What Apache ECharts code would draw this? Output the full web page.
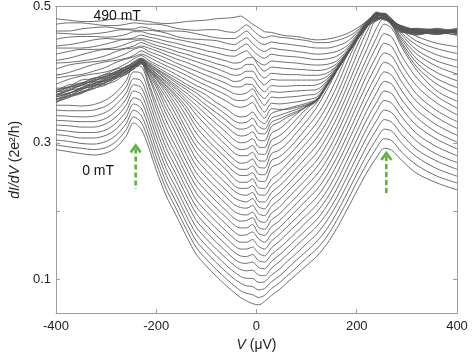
<!DOCTYPE html>
<html><head><meta charset="utf-8">
<script src="https://cdn.jsdelivr.net/npm/echarts@6/dist/echarts.min.js"></script>
<style>html,body{margin:0;padding:0;background:#fff;}#c{width:474px;height:357px;}</style>
</head><body><div id="c"></div>
<script>
// Bias voltage grid (µV)
const biasUV = [-400,-375,-350,-325,-300,-280,-260,-245,-230,-215,-200,-180,-160,-140,-120,-100,-80,-60,-44,-32,-20,-8,4,16,30,45,60,80,100,120,140,160,180,200,220,240,255,270,290,320,360,400];

// dI/dV traces (2e²/h), from 0 mT (tr00) up to 490 mT (tr41)
const tr00 = [0.290,0.287,0.284,0.282,0.285,0.293,0.310,0.329,0.320,0.293,0.260,0.222,0.193,0.163,0.136,0.119,0.104,0.090,0.080,0.073,0.068,0.064,0.062,0.067,0.076,0.084,0.094,0.107,0.120,0.133,0.151,0.174,0.201,0.229,0.256,0.279,0.292,0.289,0.274,0.255,0.241,0.231];
const tr01 = [0.297,0.294,0.292,0.290,0.293,0.302,0.319,0.338,0.330,0.303,0.270,0.232,0.203,0.173,0.146,0.129,0.114,0.100,0.090,0.083,0.079,0.077,0.073,0.076,0.086,0.094,0.104,0.117,0.131,0.144,0.162,0.186,0.213,0.242,0.269,0.293,0.306,0.303,0.286,0.267,0.251,0.241];
const tr02 = [0.304,0.302,0.299,0.298,0.302,0.311,0.328,0.348,0.340,0.313,0.280,0.242,0.213,0.183,0.156,0.139,0.124,0.110,0.100,0.094,0.090,0.089,0.084,0.086,0.096,0.104,0.114,0.128,0.141,0.155,0.173,0.197,0.225,0.254,0.282,0.306,0.320,0.317,0.299,0.279,0.262,0.251];
const tr03 = [0.312,0.310,0.307,0.307,0.311,0.320,0.337,0.357,0.351,0.323,0.290,0.252,0.223,0.193,0.166,0.149,0.134,0.120,0.110,0.104,0.101,0.101,0.095,0.096,0.106,0.114,0.125,0.138,0.152,0.166,0.185,0.209,0.237,0.266,0.295,0.320,0.334,0.330,0.312,0.290,0.273,0.261];
const tr04 = [0.319,0.317,0.315,0.315,0.319,0.329,0.346,0.366,0.361,0.333,0.300,0.262,0.233,0.203,0.176,0.159,0.144,0.130,0.120,0.114,0.112,0.113,0.106,0.105,0.116,0.125,0.135,0.149,0.163,0.177,0.196,0.220,0.249,0.279,0.308,0.333,0.348,0.344,0.325,0.302,0.283,0.271];
const tr05 = [0.326,0.325,0.323,0.323,0.328,0.338,0.355,0.376,0.371,0.343,0.310,0.272,0.243,0.213,0.186,0.169,0.154,0.140,0.129,0.124,0.123,0.125,0.117,0.115,0.126,0.135,0.145,0.159,0.173,0.187,0.207,0.232,0.261,0.291,0.321,0.347,0.362,0.358,0.338,0.313,0.294,0.281];
const tr06 = [0.333,0.332,0.331,0.331,0.336,0.347,0.364,0.385,0.381,0.353,0.320,0.282,0.253,0.223,0.196,0.179,0.164,0.150,0.139,0.134,0.133,0.136,0.127,0.125,0.136,0.145,0.155,0.169,0.184,0.198,0.218,0.243,0.273,0.304,0.334,0.360,0.376,0.372,0.350,0.325,0.305,0.291];
const tr07 = [0.340,0.339,0.338,0.339,0.345,0.356,0.373,0.394,0.391,0.363,0.330,0.292,0.263,0.233,0.206,0.189,0.174,0.160,0.149,0.144,0.144,0.147,0.138,0.134,0.146,0.155,0.166,0.180,0.194,0.209,0.229,0.255,0.285,0.316,0.347,0.374,0.390,0.386,0.363,0.337,0.315,0.301];
const tr08 = [0.348,0.347,0.347,0.348,0.354,0.365,0.382,0.404,0.402,0.373,0.340,0.302,0.273,0.243,0.216,0.199,0.184,0.170,0.159,0.154,0.154,0.158,0.148,0.144,0.156,0.165,0.176,0.190,0.205,0.220,0.241,0.267,0.297,0.329,0.360,0.388,0.404,0.399,0.376,0.348,0.326,0.311];
const tr09 = [0.355,0.355,0.354,0.356,0.363,0.374,0.391,0.413,0.412,0.383,0.350,0.312,0.283,0.253,0.226,0.209,0.194,0.180,0.169,0.164,0.165,0.169,0.159,0.154,0.166,0.175,0.186,0.201,0.216,0.231,0.252,0.278,0.309,0.341,0.373,0.401,0.418,0.413,0.389,0.360,0.337,0.321];
const tr10 = [0.359,0.367,0.372,0.382,0.386,0.391,0.402,0.408,0.416,0.388,0.358,0.322,0.293,0.263,0.236,0.219,0.204,0.190,0.179,0.175,0.175,0.180,0.167,0.164,0.177,0.185,0.196,0.211,0.226,0.242,0.263,0.290,0.321,0.354,0.386,0.415,0.432,0.427,0.402,0.371,0.347,0.331];
const tr11 = [0.361,0.366,0.375,0.380,0.385,0.395,0.401,0.409,0.416,0.396,0.368,0.332,0.303,0.273,0.246,0.229,0.214,0.200,0.189,0.185,0.186,0.190,0.176,0.173,0.187,0.195,0.206,0.221,0.237,0.253,0.274,0.301,0.333,0.366,0.399,0.428,0.446,0.441,0.414,0.383,0.358,0.341];
const tr12 = [0.360,0.370,0.374,0.379,0.389,0.396,0.400,0.410,0.417,0.398,0.375,0.342,0.313,0.283,0.256,0.239,0.224,0.210,0.199,0.195,0.194,0.198,0.186,0.183,0.197,0.205,0.217,0.232,0.247,0.264,0.285,0.313,0.345,0.379,0.412,0.442,0.460,0.455,0.427,0.395,0.368,0.351];
const tr13 = [0.364,0.369,0.373,0.383,0.389,0.394,0.405,0.408,0.417,0.400,0.382,0.350,0.323,0.293,0.266,0.249,0.234,0.220,0.209,0.205,0.204,0.208,0.196,0.193,0.207,0.216,0.227,0.242,0.258,0.274,0.297,0.324,0.357,0.391,0.424,0.455,0.474,0.468,0.440,0.406,0.376,0.361];
const tr14 = [0.364,0.368,0.378,0.384,0.388,0.398,0.404,0.411,0.418,0.403,0.386,0.358,0.331,0.303,0.276,0.259,0.244,0.230,0.219,0.215,0.213,0.218,0.206,0.203,0.217,0.226,0.237,0.253,0.269,0.285,0.308,0.336,0.369,0.404,0.437,0.469,0.484,0.473,0.444,0.411,0.386,0.371];
const tr15 = [0.363,0.372,0.379,0.383,0.392,0.397,0.403,0.413,0.418,0.404,0.389,0.366,0.340,0.312,0.286,0.269,0.254,0.240,0.229,0.224,0.223,0.227,0.214,0.213,0.227,0.236,0.247,0.263,0.279,0.296,0.319,0.347,0.381,0.416,0.450,0.482,0.483,0.473,0.447,0.417,0.394,0.381];
const tr16 = [0.367,0.373,0.377,0.387,0.391,0.397,0.407,0.411,0.419,0.406,0.393,0.372,0.348,0.320,0.295,0.279,0.264,0.250,0.237,0.233,0.233,0.237,0.224,0.223,0.237,0.246,0.258,0.273,0.290,0.307,0.330,0.359,0.393,0.429,0.463,0.483,0.481,0.474,0.451,0.423,0.403,0.391];
const tr17 = [0.367,0.372,0.381,0.385,0.393,0.400,0.404,0.412,0.419,0.407,0.394,0.377,0.355,0.330,0.304,0.288,0.274,0.260,0.247,0.242,0.242,0.247,0.234,0.233,0.247,0.256,0.268,0.284,0.300,0.318,0.341,0.370,0.405,0.441,0.470,0.488,0.486,0.475,0.454,0.430,0.412,0.401];
const tr18 = [0.370,0.373,0.380,0.389,0.391,0.399,0.408,0.412,0.421,0.408,0.396,0.380,0.362,0.339,0.314,0.297,0.283,0.268,0.257,0.252,0.252,0.256,0.244,0.243,0.264,0.269,0.278,0.294,0.311,0.329,0.353,0.382,0.417,0.449,0.474,0.481,0.484,0.476,0.458,0.436,0.420,0.411];
const tr19 = [0.368,0.377,0.380,0.387,0.395,0.398,0.408,0.414,0.419,0.409,0.398,0.383,0.367,0.347,0.323,0.306,0.291,0.277,0.266,0.261,0.261,0.266,0.254,0.253,0.274,0.279,0.288,0.304,0.322,0.340,0.364,0.394,0.427,0.450,0.469,0.490,0.488,0.477,0.461,0.443,0.429,0.421];
const tr20 = [0.371,0.376,0.384,0.386,0.394,0.402,0.406,0.414,0.421,0.409,0.399,0.385,0.370,0.353,0.331,0.315,0.300,0.286,0.275,0.270,0.271,0.276,0.264,0.263,0.284,0.289,0.298,0.315,0.332,0.352,0.377,0.405,0.428,0.450,0.475,0.484,0.480,0.478,0.465,0.449,0.438,0.431];
const tr21 = [0.370,0.379,0.384,0.392,0.395,0.402,0.409,0.412,0.421,0.411,0.401,0.388,0.374,0.359,0.341,0.325,0.310,0.296,0.285,0.281,0.281,0.286,0.274,0.273,0.294,0.300,0.309,0.325,0.343,0.359,0.382,0.405,0.428,0.450,0.471,0.479,0.485,0.479,0.468,0.456,0.446,0.441];
const tr22 = [0.375,0.377,0.386,0.390,0.398,0.401,0.409,0.416,0.420,0.412,0.402,0.390,0.378,0.363,0.348,0.333,0.319,0.305,0.294,0.290,0.291,0.296,0.284,0.283,0.304,0.310,0.319,0.335,0.350,0.362,0.383,0.405,0.429,0.451,0.474,0.489,0.487,0.478,0.463,0.459,0.462,0.458];
const tr23 = [0.374,0.382,0.384,0.392,0.397,0.405,0.408,0.415,0.423,0.413,0.405,0.393,0.381,0.368,0.355,0.341,0.328,0.315,0.304,0.300,0.301,0.306,0.294,0.293,0.314,0.320,0.329,0.342,0.354,0.363,0.384,0.406,0.429,0.451,0.470,0.483,0.482,0.474,0.468,0.465,0.461,0.463];
const tr24 = [0.374,0.381,0.388,0.390,0.399,0.403,0.412,0.414,0.422,0.414,0.406,0.395,0.384,0.373,0.361,0.349,0.336,0.324,0.314,0.310,0.311,0.316,0.304,0.303,0.324,0.330,0.337,0.344,0.353,0.361,0.383,0.406,0.429,0.451,0.476,0.491,0.489,0.480,0.466,0.460,0.464,0.460];
const tr25 = [0.378,0.381,0.387,0.395,0.397,0.405,0.411,0.418,0.422,0.416,0.408,0.398,0.388,0.378,0.367,0.355,0.344,0.333,0.323,0.320,0.321,0.326,0.314,0.313,0.330,0.335,0.340,0.346,0.353,0.362,0.384,0.407,0.430,0.452,0.471,0.480,0.483,0.476,0.470,0.463,0.459,0.465];
const tr26 = [0.376,0.385,0.387,0.394,0.401,0.403,0.412,0.417,0.424,0.416,0.409,0.400,0.391,0.382,0.373,0.362,0.352,0.341,0.332,0.329,0.330,0.336,0.324,0.320,0.336,0.340,0.344,0.349,0.355,0.363,0.385,0.407,0.430,0.452,0.475,0.486,0.488,0.473,0.462,0.466,0.463,0.458];
const tr27 = [0.380,0.382,0.392,0.394,0.401,0.408,0.411,0.419,0.424,0.418,0.412,0.403,0.395,0.386,0.378,0.370,0.359,0.350,0.341,0.338,0.339,0.345,0.334,0.328,0.343,0.347,0.350,0.354,0.358,0.364,0.385,0.408,0.430,0.452,0.472,0.490,0.485,0.481,0.469,0.461,0.466,0.462];
const tr28 = [0.386,0.393,0.398,0.401,0.404,0.409,0.416,0.423,0.428,0.421,0.415,0.408,0.400,0.392,0.384,0.377,0.369,0.361,0.354,0.352,0.354,0.359,0.346,0.336,0.350,0.349,0.349,0.352,0.356,0.363,0.384,0.406,0.429,0.451,0.476,0.482,0.487,0.475,0.465,0.467,0.460,0.464];
const tr29 = [0.395,0.398,0.400,0.405,0.411,0.418,0.423,0.426,0.430,0.426,0.420,0.413,0.406,0.399,0.391,0.384,0.377,0.370,0.363,0.362,0.363,0.369,0.356,0.345,0.358,0.357,0.358,0.360,0.363,0.367,0.386,0.407,0.429,0.451,0.470,0.488,0.482,0.479,0.471,0.462,0.463,0.467];
const tr30 = [0.399,0.403,0.409,0.415,0.419,0.421,0.424,0.428,0.435,0.430,0.425,0.418,0.412,0.405,0.398,0.391,0.385,0.378,0.372,0.371,0.373,0.379,0.366,0.355,0.367,0.366,0.367,0.368,0.370,0.372,0.388,0.408,0.430,0.452,0.475,0.485,0.489,0.472,0.464,0.458,0.465,0.461];
const tr31 = [0.408,0.414,0.417,0.419,0.421,0.425,0.431,0.437,0.440,0.434,0.430,0.424,0.417,0.411,0.405,0.399,0.393,0.387,0.382,0.382,0.386,0.385,0.373,0.365,0.375,0.374,0.375,0.376,0.377,0.378,0.390,0.409,0.430,0.452,0.472,0.491,0.484,0.478,0.467,0.464,0.461,0.466];
const tr32 = [0.417,0.418,0.420,0.423,0.428,0.434,0.438,0.439,0.442,0.439,0.435,0.429,0.423,0.418,0.412,0.406,0.401,0.395,0.390,0.391,0.396,0.395,0.383,0.375,0.384,0.383,0.383,0.384,0.384,0.385,0.393,0.410,0.431,0.452,0.477,0.484,0.487,0.476,0.472,0.466,0.467,0.460];
const tr33 = [0.421,0.424,0.429,0.434,0.437,0.437,0.439,0.442,0.447,0.443,0.439,0.434,0.429,0.424,0.419,0.414,0.409,0.403,0.399,0.400,0.405,0.405,0.393,0.385,0.393,0.392,0.392,0.392,0.392,0.392,0.397,0.412,0.431,0.453,0.471,0.487,0.490,0.482,0.465,0.461,0.462,0.464];
const tr34 = [0.430,0.434,0.437,0.437,0.438,0.440,0.445,0.449,0.451,0.447,0.443,0.439,0.434,0.430,0.425,0.421,0.416,0.412,0.408,0.409,0.415,0.415,0.403,0.395,0.402,0.401,0.400,0.400,0.399,0.399,0.402,0.413,0.432,0.453,0.475,0.481,0.483,0.474,0.469,0.467,0.464,0.468];
const tr35 = [0.439,0.439,0.439,0.441,0.445,0.449,0.452,0.452,0.453,0.451,0.448,0.444,0.440,0.436,0.432,0.428,0.424,0.420,0.417,0.418,0.424,0.425,0.413,0.405,0.411,0.410,0.409,0.408,0.407,0.406,0.408,0.416,0.433,0.454,0.473,0.489,0.486,0.477,0.463,0.462,0.468,0.462];
const tr36 = [0.442,0.444,0.447,0.451,0.453,0.452,0.452,0.454,0.458,0.455,0.453,0.449,0.446,0.442,0.439,0.435,0.432,0.428,0.427,0.431,0.435,0.426,0.418,0.414,0.420,0.419,0.418,0.417,0.415,0.414,0.415,0.420,0.435,0.455,0.477,0.485,0.489,0.480,0.470,0.465,0.459,0.465];
const tr37 = [0.452,0.455,0.456,0.456,0.455,0.456,0.459,0.463,0.463,0.460,0.458,0.455,0.452,0.449,0.446,0.443,0.440,0.437,0.435,0.440,0.445,0.436,0.428,0.424,0.430,0.428,0.427,0.426,0.424,0.422,0.423,0.427,0.438,0.456,0.474,0.492,0.484,0.473,0.466,0.468,0.465,0.461];
const tr38 = [0.461,0.460,0.459,0.460,0.462,0.465,0.466,0.465,0.465,0.465,0.464,0.461,0.456,0.453,0.452,0.451,0.450,0.446,0.444,0.449,0.454,0.446,0.438,0.434,0.439,0.437,0.436,0.434,0.432,0.430,0.431,0.434,0.442,0.458,0.478,0.486,0.488,0.479,0.468,0.460,0.463,0.466];
const tr39 = [0.464,0.464,0.467,0.469,0.470,0.468,0.467,0.467,0.470,0.468,0.465,0.464,0.464,0.463,0.460,0.457,0.454,0.453,0.453,0.458,0.464,0.456,0.448,0.444,0.448,0.446,0.445,0.443,0.441,0.439,0.439,0.442,0.448,0.461,0.476,0.483,0.485,0.475,0.471,0.464,0.466,0.463];
const tr40 = [0.474,0.476,0.476,0.474,0.472,0.472,0.474,0.476,0.475,0.474,0.474,0.472,0.468,0.466,0.465,0.466,0.466,0.463,0.462,0.467,0.473,0.466,0.458,0.454,0.457,0.455,0.454,0.452,0.450,0.447,0.447,0.450,0.455,0.464,0.479,0.489,0.490,0.481,0.464,0.463,0.461,0.467];
const tr41 = [0.482,0.480,0.478,0.478,0.480,0.482,0.482,0.480,0.479,0.478,0.476,0.475,0.476,0.478,0.479,0.480,0.482,0.483,0.484,0.486,0.481,0.474,0.469,0.463,0.462,0.459,0.457,0.456,0.453,0.451,0.452,0.455,0.460,0.468,0.478,0.487,0.487,0.477,0.468,0.464,0.465,0.463];

const traces = [tr00,tr01,tr02,tr03,tr04,tr05,tr06,tr07,tr08,tr09,tr10,tr11,tr12,tr13,tr14,tr15,tr16,tr17,tr18,tr19,tr20,tr21,tr22,tr23,tr24,tr25,tr26,tr27,tr28,tr29,tr30,tr31,tr32,tr33,tr34,tr35,tr36,tr37,tr38,tr39,tr40,tr41];

// axis ticks
const xTicks = [-400,-200,0,200,400];
const yTickValues = [0.1,0.2,0.3,0.4,0.5];
const yLabelValues = [0.1,0.3,0.5];

// annotations (data coordinates)
const fieldTagText = ['490 mT','0 mT'];
const fieldTagBias = [-278,-316];
const fieldTagG = [0.486,0.258];
const arrowBias = [-241,259];
const arrowTipG = [0.296,0.285];
const arrowTailG = [0.232,0.226];

const FONT = 'Liberation Sans, Arial, Helvetica, sans-serif';
const axisGray = '#9c9c9c';
const txt = '#222';

const chart = echarts.init(document.getElementById('c'), null, {renderer:'canvas'});

const baseX = {
  type:'value', min:xTicks[0], max:xTicks[xTicks.length-1], interval:200,
  axisLine:{show:true, onZero:false, lineStyle:{color:axisGray, width:1}},
  axisTick:{show:true, inside:true, length:4, lineStyle:{color:axisGray}},
  splitLine:{show:false}
};
const baseY = {
  type:'value', min:0.05, max:0.5,
  axisLine:{show:true, onZero:false, lineStyle:{color:axisGray, width:1}},
  axisTick:{show:true, inside:true, length:4, customValues:yTickValues, lineStyle:{color:axisGray}},
  splitLine:{show:false}
};

const option = {
  animation:false,
  backgroundColor:'#fff',
  grid:{left:49, right:17, top:5, bottom:42, containLabel:false},
  xAxis:[
    Object.assign({}, baseX, {position:'bottom',
      axisLabel:{show:true, color:txt, fontSize:13, fontFamily:FONT, margin:7},
      name:'{i|V} (μV)', nameLocation:'middle', nameGap:24,
      nameTextStyle:{color:txt, fontSize:14, fontFamily:FONT,
        rich:{i:{fontStyle:'italic', fontSize:14, fontFamily:FONT, color:txt}}}}),
    Object.assign({}, baseX, {position:'top', axisLabel:{show:false}})
  ],
  yAxis:[
    Object.assign({}, baseY, {position:'left',
      axisLabel:{show:true, customValues:yLabelValues, color:txt, fontSize:13, fontFamily:FONT, margin:5,
        formatter:v=>v.toFixed(1)},
      name:'{i|dI/dV} (2e²/h)', nameLocation:'middle', nameRotate:90, nameGap:31,
      nameTextStyle:{color:txt, fontSize:14, fontFamily:FONT,
        rich:{i:{fontStyle:'italic', fontSize:14, fontFamily:FONT, color:txt}}}}),
    Object.assign({}, baseY, {position:'right', axisLabel:{show:false}})
  ],
  series: traces.map((t,k)=>({
    type:'line', name:'trace'+k, xAxisIndex:0, yAxisIndex:0,
    data: biasUV.map((v,i)=>[v,t[i]]),
    symbol:'none', showSymbol:false, smooth:0.3, silent:true,
    lineStyle:{color:'#555555', width:0.85}
  }))
};
chart.setOption(option);

function px(v,g){ return chart.convertToPixel({xAxisIndex:0, yAxisIndex:0}, [v,g]); }
const green = '#5db33b';
const gfx = [];
arrowBias.forEach((v,i)=>{
  const tip = px(v, arrowTipG[i]);
  const tail = px(v, arrowTailG[i]);
  gfx.push({type:'line', z:100, silent:true,
    shape:{x1:tip[0], y1:tip[1]+3, x2:tail[0], y2:tail[1]},
    style:{stroke:green, lineWidth:2.6, lineDash:[5,3]}});
  gfx.push({type:'polyline', z:100, silent:true,
    shape:{points:[[tip[0]-5,tip[1]+7],[tip[0],tip[1]],[tip[0]+5,tip[1]+7]]},
    style:{stroke:green, lineWidth:2.6, fill:null}});
});
fieldTagText.forEach((t,i)=>{
  const p = px(fieldTagBias[i], fieldTagG[i]);
  gfx.push({type:'text', z:100, silent:true, x:p[0], y:p[1],
    style:{text:t, fontSize:14, fontFamily:FONT, fill:'#111', align:'center', verticalAlign:'middle'}});
});
chart.setOption({graphic:gfx});
</script>
</body></html>
